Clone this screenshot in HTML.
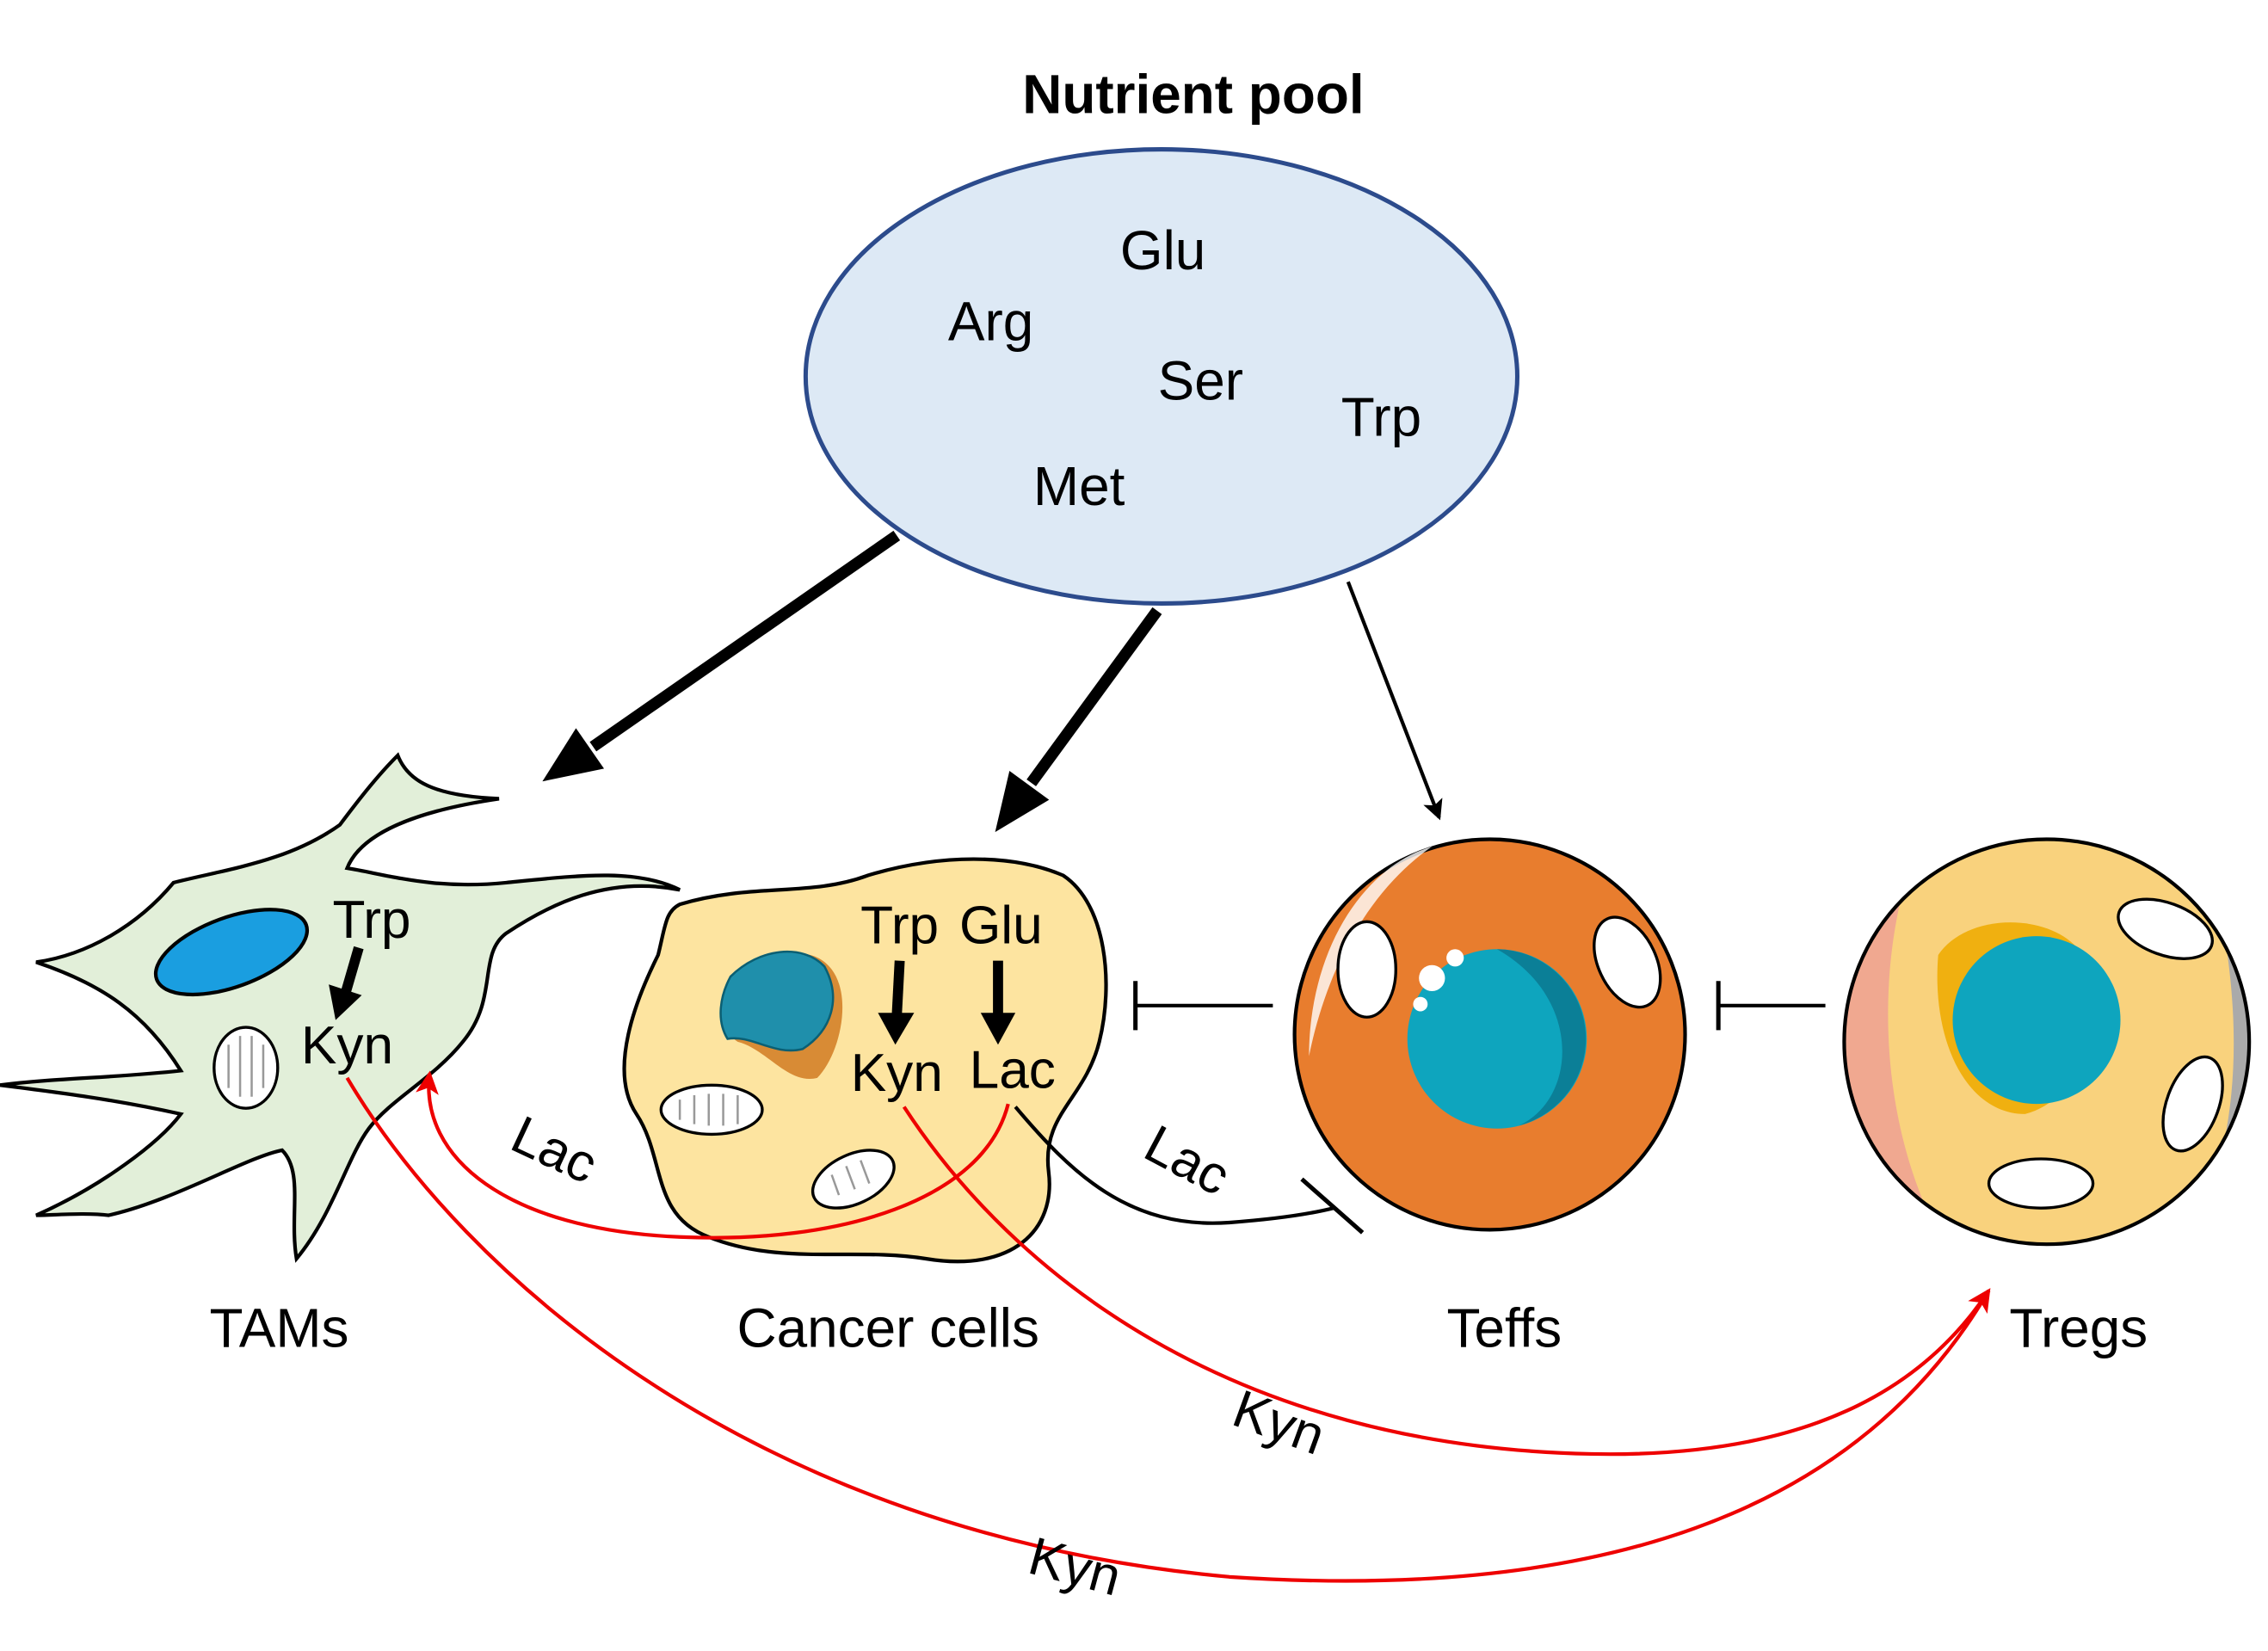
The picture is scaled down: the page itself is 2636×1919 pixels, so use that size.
<!DOCTYPE html>
<html><head><meta charset="utf-8"><style>
html,body{margin:0;padding:0;background:#fff;}
svg{display:block;}
text{font-family:"Liberation Sans",Arial,sans-serif;}
</style></head><body>
<svg width="2636" height="1919" viewBox="0 0 1568 1141" xmlns="http://www.w3.org/2000/svg">
<defs>
<marker id="at" markerWidth="14" markerHeight="14" refX="12" refY="7" orient="auto" markerUnits="userSpaceOnUse"><path d="M0,0 L14,7 L0,14 L3,7 Z" fill="#000"/></marker>
<marker id="ar" markerWidth="16" markerHeight="16" refX="14" refY="8" orient="auto" markerUnits="userSpaceOnUse"><path d="M0,0 L16,8 L0,16 L4,8 Z" fill="#e00"/></marker>
<clipPath id="tc"><circle cx="1415" cy="720" r="139"/></clipPath>
</defs>
<text x="825" y="78" font-size="38" font-weight="bold" text-anchor="middle">Nutrient pool</text>
<ellipse cx="803" cy="260" rx="246" ry="157" fill="#dde9f5" stroke="#2c4b8c" stroke-width="3"/>
<g font-size="38" text-anchor="middle">
<text x="804" y="186">Glu</text><text x="685" y="235">Arg</text><text x="830" y="276">Ser</text><text x="955" y="301">Trp</text><text x="746" y="349">Met</text>
</g>
<line x1="620" y1="370" x2="410" y2="516" stroke="#000" stroke-width="8"/>
<polygon points="375,540 417.6,531.2 398.2,503.2" fill="#000"/>
<line x1="800" y1="422" x2="713" y2="541" stroke="#000" stroke-width="8"/>
<polygon points="688,575 725.3,552.7 697.9,532.7" fill="#000"/>
<line x1="932" y1="402" x2="995" y2="565" stroke="#000" stroke-width="2.5" marker-end="url(#at)"/>
<!-- TAM -->
<path d="M0,750 C40,745 80,745 125,740 C100,700 70,680 25,665 C60,660 95,640 120,610 C160,600 200,595 235,570 C250,550 262,535 275,522 C282,540 300,550 345,552 C290,560 250,575 240,600 C270,605 300,615 350,610 C400,605 440,600 470,615 C420,605 380,625 350,645 C330,660 345,690 320,720 C300,745 270,760 255,780 C240,800 230,840 205,870 C200,840 210,810 195,795 C170,800 120,830 75,840 C60,838 35,840 25,840 C70,820 110,790 125,770 C80,760 40,755 0,750 Z" fill="#e2efd9" stroke="#000" stroke-width="2.5"/>
<ellipse cx="160" cy="658" rx="55" ry="24" transform="rotate(-20 160 658)" fill="#1a9ee0" stroke="#000" stroke-width="2.5"/>
<ellipse cx="170" cy="738" rx="22" ry="28" fill="#fff" stroke="#000" stroke-width="2"/>
<path d="M158,722 v30 M166,716 v42 M174,716 v42 M182,722 v30" stroke="#999" stroke-width="1.5"/>
<text x="257" y="648" font-size="37" text-anchor="middle">Trp</text>
<line x1="248" y1="655" x2="239" y2="686" stroke="#000" stroke-width="7"/>
<polygon points="232,705 250.1,687.8 227.3,680.4" fill="#000"/>
<text x="240" y="735" font-size="37" text-anchor="middle">Kyn</text>
<!-- Cancer -->
<path d="M470,625 C520,610 560,620 600,605 C650,590 700,590 735,605 C765,625 770,680 760,720 C750,760 720,770 725,810 C730,850 700,880 640,870 C590,862 540,875 490,855 C450,840 460,800 440,770 C420,740 440,690 455,660 C460,640 460,630 470,625 Z" fill="#fde4a0" stroke="#000" stroke-width="2.5"/>
<path d="M510,680 C530,660 560,650 575,670 C590,690 580,730 565,745 C545,750 530,725 510,720 C495,710 500,690 510,680 Z" fill="#d88b35"/>
<path d="M505,675 C525,655 555,652 570,668 C582,690 575,712 555,725 C535,730 520,715 503,718 C495,705 498,688 505,675 Z" fill="#1f8fab" stroke="#0b5f73" stroke-width="1.5"/>
<ellipse cx="492" cy="767" rx="35" ry="17" fill="#fff" stroke="#000" stroke-width="2"/>
<path d="M470,760 v14 M480,757 v20 M490,756 v22 M500,756 v22 M510,757 v20" stroke="#999" stroke-width="1.5"/>
<ellipse cx="590" cy="815" rx="30" ry="17" transform="rotate(-25 590 815)" fill="#fff" stroke="#000" stroke-width="2"/>
<path d="M575,812 l5,14 M585,806 l6,16 M595,802 l6,16" stroke="#999" stroke-width="1.5"/>
<text x="622" y="652" font-size="37" text-anchor="middle">Trp</text>
<text x="692" y="652" font-size="37" text-anchor="middle">Glu</text>
<line x1="622" y1="664" x2="620" y2="702" stroke="#000" stroke-width="7"/>
<polygon points="619,722 632,700 607,700" fill="#000"/>
<line x1="690" y1="664" x2="690" y2="702" stroke="#000" stroke-width="7"/>
<polygon points="690,722 702,700 678,700" fill="#000"/>
<text x="620" y="754" font-size="37" text-anchor="middle">Kyn</text>
<text x="700" y="752" font-size="37" text-anchor="middle">Lac</text>
<!-- Teff -->
<circle cx="1030" cy="715" r="135" fill="#e87d2e" stroke="#000" stroke-width="2.5"/>
<path d="M905,730 C905,660 940,600 990,585 C940,620 915,680 905,730 Z" fill="#fff" opacity="0.8"/>
<circle cx="1035" cy="718" r="62" fill="#0ea5be"/>
<path d="M1035,656 A62,62 0 0 1 1050,778 C1090,760 1095,690 1035,656 Z" fill="#0b7f97"/>
<circle cx="990" cy="676" r="9" fill="#fff"/><circle cx="1006" cy="662" r="6" fill="#fff"/><circle cx="982" cy="694" r="5" fill="#fff"/>
<ellipse cx="945" cy="670" rx="20" ry="33" fill="#fff" stroke="#000" stroke-width="2"/>
<ellipse cx="1125" cy="665" rx="20" ry="33" transform="rotate(-25 1125 665)" fill="#fff" stroke="#000" stroke-width="2"/>
<!-- Treg -->
<circle cx="1415" cy="720" r="140" fill="#f9d27d"/>
<g clip-path="url(#tc)">
<path d="M1275,600 L1320,600 C1295,680 1300,790 1350,870 L1275,870 Z" fill="#f0a890"/>
<path d="M1540,660 C1548,720 1545,770 1530,820 L1560,820 L1560,660 Z" fill="#aaa"/>
</g>
<circle cx="1415" cy="720" r="140" fill="none" stroke="#000" stroke-width="2.5"/>
<path d="M1340,660 C1360,630 1420,630 1440,660 C1460,700 1440,760 1400,770 C1360,770 1335,720 1340,660 Z" fill="#f0b010"/>
<circle cx="1408" cy="705" r="58" fill="#0ea5be"/>
<ellipse cx="1497" cy="642" rx="34" ry="18" transform="rotate(20 1497 642)" fill="#fff" stroke="#000" stroke-width="2"/>
<ellipse cx="1516" cy="763" rx="18" ry="34" transform="rotate(20 1516 763)" fill="#fff" stroke="#000" stroke-width="2"/>
<ellipse cx="1411" cy="818" rx="36" ry="17" fill="#fff" stroke="#000" stroke-width="2"/>
<!-- inhibitions -->
<line x1="785" y1="695" x2="880" y2="695" stroke="#000" stroke-width="2.5"/><line x1="785" y1="678" x2="785" y2="712" stroke="#000" stroke-width="3"/>
<line x1="1188" y1="695" x2="1262" y2="695" stroke="#000" stroke-width="2.5"/><line x1="1188" y1="678" x2="1188" y2="712" stroke="#000" stroke-width="3"/>
<path d="M702,765 C740,810 780,850 850,845 C890,842 910,838 922,835" fill="none" stroke="#000" stroke-width="2.5"/>
<line x1="900" y1="815" x2="942" y2="852" stroke="#000" stroke-width="3"/>
<text x="815" y="813" font-size="37" text-anchor="middle" transform="rotate(28 815 813)">Lac</text>
<!-- red -->
<path d="M697,763 C680,830 580,860 470,855 C350,850 290,800 297,742" fill="none" stroke="#e00" stroke-width="2.5" marker-end="url(#ar)"/>
<text x="378" y="806" font-size="37" text-anchor="middle" transform="rotate(25 378 806)">Lac</text>
<path d="M625,765 C700,880 850,1000 1100,1005 C1250,1008 1330,960 1375,892" fill="none" stroke="#e00" stroke-width="2.5" marker-end="url(#ar)"/>
<path d="M240,745 C320,880 520,1060 850,1090 C1150,1110 1300,1020 1375,892" fill="none" stroke="#e00" stroke-width="2.5"/>
<text x="880" y="995" font-size="37" text-anchor="middle" transform="rotate(20 880 995)">Kyn</text>
<text x="740" y="1095" font-size="37" text-anchor="middle" transform="rotate(15 740 1095)">Kyn</text>
<g font-size="38" text-anchor="middle">
<text x="193" y="931">TAMs</text><text x="614" y="931">Cancer cells</text><text x="1040" y="931">Teffs</text><text x="1437" y="931">Tregs</text>
</g>
</svg>
</body></html>
